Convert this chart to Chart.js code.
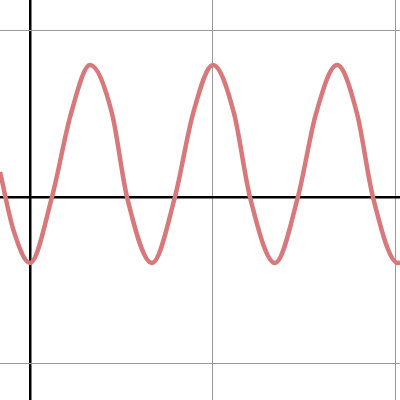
<!DOCTYPE html>
<html><head><style>html,body{margin:0;padding:0;background:#fff}#w{width:400px;height:400px}</style>
<script src="https://cdn.jsdelivr.net/npm/chart.js@4"></script></head>
<body><div id="w"><canvas id="c"></canvas></div>
<script>
const xs = [-0.164,-0.09,0,0.12,0.224,0.328,0.448,0.53,0.667,0.792,0.891,1.0,1.115,1.202,1.339,1.464,1.563,1.678,1.787,1.874,2.011,2.022];
const ys = [0.15,-0.2,-0.395,0,0.5,0.79,0.5,0,-0.395,0,0.5,0.79,0.5,0,-0.395,0,0.5,0.79,0.5,0,-0.395,-0.39];
const gridTicks = [-1,0,1,2];
const pts = xs.map((x,i)=>({x, y: ys[i]}));
const keep = s => { s.ticks = gridTicks.filter(v=>v>=s.min&&v<=s.max).map(v=>({value:v})); };
const gc = c => c.tick.value===0 ? '#000' : '#999';
const gw = c => c.tick.value===0 ? 2.5 : 1;
new Chart(document.getElementById('c'), {
  type:'line',
  data:{datasets:[{data:pts,borderColor:'#d9787a',borderWidth:4.5,pointRadius:0,cubicInterpolationMode:'monotone',fill:false}]},
  options:{responsive:true,maintainAspectRatio:false,animation:false,
    layout:{padding:0},
    plugins:{legend:{display:false},tooltip:{enabled:false}},
    scales:{
      x:{type:'linear',min:-0.164,max:2.022,afterBuildTicks:keep,border:{display:false},ticks:{display:false},grid:{color:gc,lineWidth:gw,drawTicks:false,tickLength:0}},
      y:{type:'linear',min:-1.216,max:1.18,afterBuildTicks:keep,border:{display:false},ticks:{display:false},grid:{color:gc,lineWidth:gw,drawTicks:false,tickLength:0}}
    }}
});
</script></body></html>
